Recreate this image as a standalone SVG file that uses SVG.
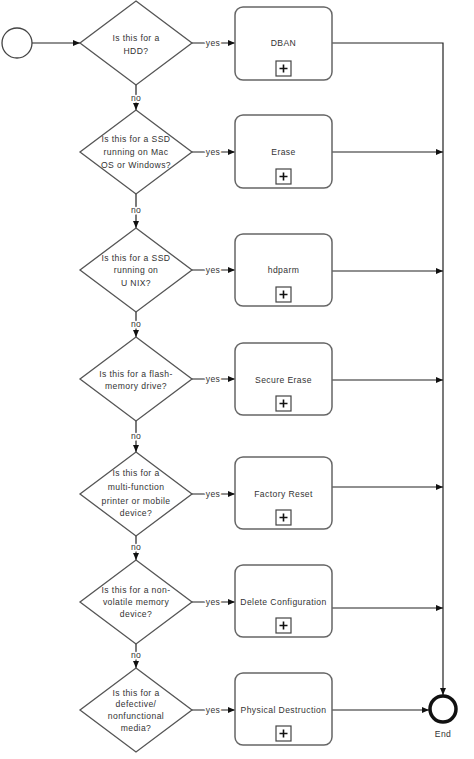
<svg xmlns="http://www.w3.org/2000/svg" width="474" height="759" viewBox="0 0 474 759">
<defs>
<marker id="arr" markerWidth="7" markerHeight="6" refX="7" refY="3" orient="auto" markerUnits="userSpaceOnUse">
<path d="M0,0 L7,3 L0,6 Z" fill="#111"/>
</marker>
</defs>
<style>
.dia{fill:#fff;stroke:#555;stroke-width:1.3}
.task{fill:#fff;stroke:#666;stroke-width:1.5}
.plus{fill:#fff;stroke:#444;stroke-width:1.2}
.pl{stroke:#111;stroke-width:1.6}
.t{font-family:"Liberation Sans",Arial,sans-serif;font-size:8.6px;letter-spacing:0.4px;fill:#333;text-anchor:middle}
.lbl{font-family:"Liberation Sans",Arial,sans-serif;font-size:8.6px;letter-spacing:0.3px;fill:#333;text-anchor:middle;stroke:#fff;stroke-width:3;paint-order:stroke}
.c{fill:none;stroke:#222;stroke-width:1.2}
</style>
<rect width="474" height="759" fill="#fff"/>
<g id="connectors">
<line class="c" x1="32" y1="43" x2="80" y2="43" marker-end="url(#arr)"/>
<line class="c" x1="136" y1="85" x2="136" y2="110" marker-end="url(#arr)"/>
<line class="c" x1="136" y1="194" x2="136" y2="228" marker-end="url(#arr)"/>
<line class="c" x1="136" y1="312" x2="136" y2="337" marker-end="url(#arr)"/>
<line class="c" x1="136" y1="421" x2="136" y2="452" marker-end="url(#arr)"/>
<line class="c" x1="136" y1="536" x2="136" y2="560" marker-end="url(#arr)"/>
<line class="c" x1="136" y1="644" x2="136" y2="668" marker-end="url(#arr)"/>
<line class="c" x1="192" y1="43" x2="235" y2="43" marker-end="url(#arr)"/>
<line class="c" x1="192" y1="152" x2="235" y2="152" marker-end="url(#arr)"/>
<line class="c" x1="192" y1="270" x2="235" y2="270" marker-end="url(#arr)"/>
<line class="c" x1="192" y1="379" x2="235" y2="379" marker-end="url(#arr)"/>
<line class="c" x1="192" y1="494" x2="235" y2="494" marker-end="url(#arr)"/>
<line class="c" x1="192" y1="602" x2="235" y2="602" marker-end="url(#arr)"/>
<line class="c" x1="192" y1="710" x2="235" y2="710" marker-end="url(#arr)"/>
<polyline class="c" points="332,43 443,43 443,695" marker-end="url(#arr)"/>
<line class="c" x1="332" y1="152" x2="443" y2="152" marker-end="url(#arr)"/>
<line class="c" x1="332" y1="271" x2="443" y2="271" marker-end="url(#arr)"/>
<line class="c" x1="332" y1="380" x2="443" y2="380" marker-end="url(#arr)"/>
<line class="c" x1="332" y1="487" x2="443" y2="487" marker-end="url(#arr)"/>
<line class="c" x1="332" y1="608" x2="443" y2="608" marker-end="url(#arr)"/>
<line class="c" x1="332" y1="710" x2="429" y2="710" marker-end="url(#arr)"/>
<text class="lbl" x="136" y="101">no</text>
<text class="lbl" x="136" y="213">no</text>
<text class="lbl" x="136" y="327">no</text>
<text class="lbl" x="136" y="439">no</text>
<text class="lbl" x="136" y="550">no</text>
<text class="lbl" x="136" y="658">no</text>
<text class="lbl" x="213" y="46">yes</text>
<text class="lbl" x="213" y="155">yes</text>
<text class="lbl" x="213" y="273">yes</text>
<text class="lbl" x="213" y="382">yes</text>
<text class="lbl" x="213" y="497">yes</text>
<text class="lbl" x="213" y="605">yes</text>
<text class="lbl" x="213" y="713">yes</text>
</g>
<g id="start"><circle cx="17" cy="43" r="15" fill="#fff" stroke="#444" stroke-width="1.3"/></g>
<g id="d1"><polygon class="dia" points="136,1 192,43 136,85 80,43"/>
<text class="t" x="136" y="41">Is this for a</text><text class="t" x="136" y="54">HDD?</text></g>
<g id="d2"><polygon class="dia" points="136,110 192,152 136,194 80,152"/>
<text class="t" x="136" y="142">Is this  for a SSD</text><text class="t" x="136" y="155">running on Mac</text><text class="t" x="136" y="168">OS or Windows?</text></g>
<g id="d3"><polygon class="dia" points="136,228 192,270 136,312 80,270"/>
<text class="t" x="136" y="261">Is this for a SSD</text><text class="t" x="136" y="273">running on</text><text class="t" x="136" y="286">U NIX?</text></g>
<g id="d4"><polygon class="dia" points="136,337 192,379 136,421 80,379"/>
<text class="t" x="136" y="377">Is this for a flash-</text><text class="t" x="136" y="389">memory drive?</text></g>
<g id="d5"><polygon class="dia" points="136,452 192,494 136,536 80,494"/>
<text class="t" x="136" y="476">Is this for a</text><text class="t" x="136" y="490">multi-function</text><text class="t" x="136" y="504">printer or mobile</text><text class="t" x="136" y="516">device?</text></g>
<g id="d6"><polygon class="dia" points="136,560 192,602 136,644 80,602"/>
<text class="t" x="136" y="593">Is this for a non-</text><text class="t" x="136" y="605">volatile memory</text><text class="t" x="136" y="617">device?</text></g>
<g id="d7"><polygon class="dia" points="136,668 192,710 136,752 80,710"/>
<text class="t" x="136" y="696">Is this for a</text><text class="t" x="136" y="707">defective/</text><text class="t" x="136" y="719">nonfunctional</text><text class="t" x="136" y="731">media?</text></g>
<g id="t1"><rect class="task" x="235" y="7" width="97" height="73" rx="8"/><text class="t" x="283.5" y="46">DBAN</text>
<rect class="plus" x="276" y="61" width="15" height="15"/><path class="pl" d="M279.5,68.5h8M283.5,64.5v8"/></g>
<g id="t2"><rect class="task" x="235" y="115" width="97" height="73" rx="8"/><text class="t" x="283.5" y="155">Erase</text>
<rect class="plus" x="276" y="169" width="15" height="15"/><path class="pl" d="M279.5,176.5h8M283.5,172.5v8"/></g>
<g id="t3"><rect class="task" x="235" y="234" width="97" height="72" rx="8"/><text class="t" x="283.5" y="273">hdparm</text>
<rect class="plus" x="276" y="287" width="15" height="15"/><path class="pl" d="M279.5,294.5h8M283.5,290.5v8"/></g>
<g id="t4"><rect class="task" x="235" y="343" width="97" height="72" rx="8"/><text class="t" x="283.5" y="383">Secure Erase</text>
<rect class="plus" x="276" y="396" width="15" height="15"/><path class="pl" d="M279.5,403.5h8M283.5,399.5v8"/></g>
<g id="t5"><rect class="task" x="235" y="457" width="97" height="72" rx="8"/><text class="t" x="283.5" y="497">Factory Reset</text>
<rect class="plus" x="276" y="510" width="15" height="15"/><path class="pl" d="M279.5,517.5h8M283.5,513.5v8"/></g>
<g id="t6"><rect class="task" x="235" y="565" width="97" height="72" rx="8"/><text class="t" x="283.5" y="605">Delete Configuration</text>
<rect class="plus" x="276" y="618" width="15" height="15"/><path class="pl" d="M279.5,625.5h8M283.5,621.5v8"/></g>
<g id="t7"><rect class="task" x="235" y="673" width="97" height="72" rx="8"/><text class="t" x="283.5" y="713">Physical Destruction</text>
<rect class="plus" x="276" y="726" width="15" height="15"/><path class="pl" d="M279.5,733.5h8M283.5,729.5v8"/></g>
<g id="end"><circle cx="443" cy="709" r="13" fill="#fff" stroke="#111" stroke-width="3.5"/>
<text class="t" x="443" y="737">End</text></g>
</svg>
